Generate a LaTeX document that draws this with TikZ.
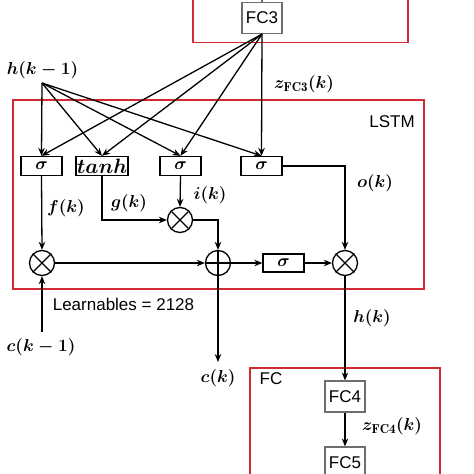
\documentclass[tikz,border=0pt]{standalone}
\usepackage{amsmath}
\usepackage{fontspec}
\setsansfont{Liberation Sans}
\usetikzlibrary{arrows.meta}
\definecolor{lstmred}{RGB}{212,42,52}
\definecolor{boxgray}{RGB}{110,110,110}
\begin{document}
\begin{tikzpicture}[x=1pt,y=-1pt,
  redbox/.style={draw=lstmred, line width=1.4pt},
  fcbox/.style={draw=boxgray, line width=1.2pt, fill=white, minimum width=40pt, minimum height=31pt, inner sep=0pt, font=\sffamily\fontsize{17}{20}\selectfont},
  gate/.style={draw, line width=1.3pt, minimum width=41pt, minimum height=19pt, inner sep=0pt, font=\fontsize{18}{20}\selectfont\boldmath},
  op/.style={circle, draw, line width=1.3pt, minimum size=25pt, inner sep=0pt},
  arr/.style={-{Stealth[length=8pt,width=6.5pt]}, line width=1.3pt},
  lab/.style={font=\fontsize{18.5}{21}\selectfont\boldmath, inner sep=0pt},
  slab/.style={font=\sffamily\fontsize{17}{20}\selectfont, inner sep=0pt}]
\useasboundingbox (0,0) rectangle (474,474);
\clip (0,0) rectangle (474,474);
\fill[white] (0,0) rectangle (474,474);
% red containers
\draw[redbox] (193,-10) rectangle (408,42.5);
\draw[redbox] (13,100) rectangle (424,289);
\draw[redbox] (250,368) rectangle (440,490);
\node[slab] (lstmlab) at (392,122) {LSTM};
\node[slab] (fclab) at (271,379) {FC};
% nodes
\coordinate (topin) at (262,-5);
\node[fcbox] (fc3) at (262,18) {FC3};
\draw[boxgray, line width=1.2pt] (topin) -- (fc3.north);
\coordinate (hsrc) at (42,83);
\node[lab] (hlab) at (42.5,70) {$h(k-1)$};
\node[gate] (g1) at (41.5,166) {$\sigma$};
\node[gate, minimum width=52pt, font=\fontsize{20}{22}\selectfont\boldmath] (g2) at (102,166) {$tanh$};
\node[gate] (g3) at (180.5,166) {$\sigma$};
\node[gate] (g4) at (261.5,166) {$\sigma$};
\node[op] (mi) at (180,220) {};
\node[op] (mf) at (42,263) {};
\node[op] (pl) at (218,263) {};
\node[gate, minimum height=18pt] (s5) at (283.5,263) {$\sigma$};
\node[op] (mo) at (345,263) {};
\node[fcbox] (fc4) at (345,396.5) {FC4};
\node[fcbox] (fc5) at (345,462.5) {FC5};
\coordinate (ck1) at (42,332);
\coordinate (ck) at (218,362);
% operator symbols
\foreach \n in {mi,mf,mo}{\draw[line width=1.3pt] (\n.45) -- (\n.225) (\n.135) -- (\n.315);}
\draw[line width=1.3pt] (pl.north) -- (pl.south) (pl.west) -- (pl.east);
% inputs
\foreach \g in {g1,g2,g3,g4}{\draw[arr] (hsrc) -- (\g.north);}
\foreach \g in {g1,g2,g3,g4}{\draw[arr] (fc3.south) -- (\g.north);}
% internal
\draw[arr] (g1.south) -- (mf.north);
\draw[arr] (g2.south) |- (mi.west);
\draw[arr] (g3.south) -- (mi.north);
\draw[arr] (mi.east) -| (pl.north);
\draw[arr] (g4.east) -| (mo.north);
\draw[arr] (mf.east) -- (pl.west);
\draw[arr] (pl.east) -- (s5.west);
\draw[arr] (s5.east) -- (mo.west);
\draw[arr] (ck1) -- (mf.south);
\draw[arr] (pl.south) -- (ck);
\draw[arr] (mo.south) -- (fc4.north);
\draw[arr] (fc4.south) -- (fc5.north);
% labels
\node[lab] (zlab) at (304,84) {$z_{\mathrm{FC3}}(k)$};
\node[lab] (flab) at (66,208) {$f(k)$};
\node[lab] (glab) at (129,203) {$g(k)$};
\node[lab] (ilab) at (210,195) {$i(k)$};
\node[lab] (olab) at (375,183) {$o(k)$};
\node[lab] (hklab) at (372,318) {$h(k)$};
\node[lab] (cklab) at (218,378) {$c(k)$};
\node[lab] (ck1lab) at (41,347) {$c(k-1)$};
\node[lab] (z4lab) at (392,426) {$z_{\mathrm{FC4}}(k)$};
\node[slab] (learn) at (123.5,304) {Learnables = 2128};
\end{tikzpicture}
\end{document}
